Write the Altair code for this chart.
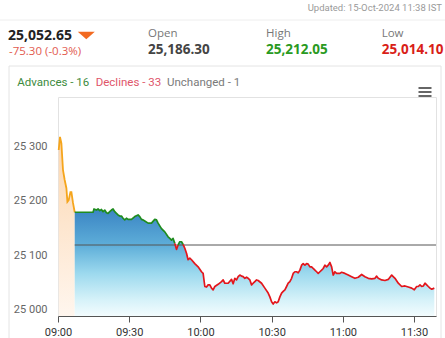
import altair as alt
import pandas as pd

# ---------------- data ----------------
# minutes after 09:00 and index level
minutes = [0.3, 0.84, 1.43, 2.11, 2.82, 3.54, 3.96, 4.51, 5.23, 5.65, 6.32, 7.04,
           10.9, 14.76, 15.18, 16.19, 16.87, 17.58, 18.30, 18.97, 19.69, 20.41, 21.08,
           21.80, 22.52, 23.19, 23.91, 24.62, 25.30, 26.02, 26.73, 27.41, 28.12, 28.84,
           29.51, 30.95, 32.34, 33.73, 34.45, 35.16, 35.84, 36.56, 37.95, 39.38, 40.77,
           41.49, 42.16, 43.60, 44.99, 46.38, 47.10, 47.81, 48.49, 49.21, 49.92, 50.60,
           51.31, 52.03, 52.71, 53.42, 54.14, 54.81, 55.53, 56.25, 57.64, 59.03, 60.46,
           61.14, 61.86, 62.57, 63.25, 63.96, 64.68, 65.35, 66.07, 67.46, 68.90, 69.57,
           70.29, 71.68, 73.11, 73.79, 74.50, 75.22, 75.90, 76.61, 77.33, 78.00, 78.72,
           79.44, 80.11, 80.83, 81.55, 82.22, 82.94, 83.65, 84.33, 85.76, 87.15, 88.54,
           89.26, 89.98, 90.65, 91.37, 92.09, 92.76, 93.48, 94.20, 94.87, 95.59, 96.30,
           96.98, 97.69, 98.41, 99.09, 99.80, 100.52, 101.19, 101.91, 102.63, 103.30,
           104.02, 104.74, 105.41, 106.13, 106.85, 107.52, 108.24, 108.95, 109.63, 110.34,
           111.06, 111.73, 112.45, 113.17, 113.84, 114.56, 115.28, 115.95, 116.67, 117.39,
           118.78, 119.49, 120.89, 122.28, 123.71, 125.10, 126.49, 127.93, 129.32, 130.71,
           132.14, 133.54, 134.25, 134.93, 136.36, 137.75, 139.14, 140.58, 141.97, 143.36,
           144.79, 146.18, 147.57, 149.01, 150.10, 151.11, 151.79, 152.51, 153.22, 153.90,
           154.62, 155.33, 156.01, 156.73, 157.45, 158.54]
prices = [25293, 25317, 25305, 25256, 25238, 25223, 25198, 25201, 25216, 25216, 25196, 25179,
          25179, 25179, 25185, 25183, 25185, 25182, 25184, 25180, 25183, 25178, 25177,
          25180, 25183, 25185, 25180, 25177, 25174, 25172, 25172, 25168, 25165, 25168,
          25166, 25166, 25171, 25174, 25171, 25166, 25165, 25163, 25159, 25159, 25166,
          25165, 25159, 25149, 25143, 25134, 25131, 25128, 25131, 25122, 25111, 25119,
          25125, 25125, 25120, 25113, 25104, 25092, 25095, 25092, 25085, 25079, 25070,
          25067, 25043, 25042, 25046, 25046, 25040, 25037, 25043, 25047, 25052, 25055,
          25049, 25049, 25056, 25048, 25058, 25055, 25061, 25064, 25062, 25061, 25058,
          25060, 25058, 25055, 25046, 25049, 25052, 25055, 25054, 25049, 25040, 25031,
          25024, 25015, 25011, 25015, 25013, 25015, 25024, 25031, 25034, 25037, 25043,
          25049, 25052, 25058, 25067, 25070, 25070, 25068, 25073, 25082, 25085,
          25082, 25085, 25084, 25079, 25079, 25076, 25073, 25070, 25067, 25070,
          25073, 25076, 25082, 25079, 25082, 25087, 25079, 25064, 25070, 25067,
          25067, 25069, 25067, 25064, 25061, 25058, 25060, 25065, 25061, 25058,
          25057, 25058, 25062, 25058, 25055, 25054, 25056, 25064, 25058, 25049,
          25043, 25044, 25042, 25040, 25037, 25043, 25043, 25046, 25043, 25044,
          25049, 25046, 25043, 25040, 25038, 25040]
preopen_points = 12          # first points belong to the pre-open session
ref_level = 25119            # horizontal reference line
y_ticks = [25000, 25100, 25200, 25300]
x_ticks = ["09:00", "09:30", "10:00", "10:30", "11:00", "11:30"]
x_end = "11:39:15"
y_domain = [24989, 25390]

updated = "Updated: 15-Oct-2024 11:38 IST"
last_price = "25,052.65"
change = "-75.30 (-0.3%)"
stat_names = ["Open", "High", "Low"]
stat_values = ["25,186.30", "25,212.05", "25,014.10"]
breadth = ["Advances - 16", "Declines - 33", "Unchanged - 1"]

# ---------------- frames ----------------
base = pd.Timestamp("2024-10-15 09:00:00")
df = pd.DataFrame({"t": base + pd.to_timedelta(minutes, unit="m"), "price": prices})
pre = df.iloc[:preopen_points]
sess = df.iloc[preopen_points - 1:].reset_index(drop=True)

# colour runs: green above reference, red below
rows = []
run = 0
prev = None
for i in range(len(sess) - 1):
    a, b = sess.iloc[i], sess.iloc[i + 1]
    side = "up" if (a.price + b.price) / 2 >= ref_level else "down"
    if side != prev:
        run += 1
        rows.append({"t": a.t, "price": a.price, "side": side, "run": run})
        prev = side
    rows.append({"t": b.t, "price": b.price, "side": side, "run": run})
lines_df = pd.DataFrame(rows)

ref_df = pd.DataFrame({"t0": [sess.t.iloc[0]], "t1": [pd.Timestamp("2024-10-15 " + x_end)],
                       "level": [ref_level]})


def dt(s):
    p = [int(v) for v in s.split(":")]
    while len(p) < 3:
        p.append(0)
    return alt.DateTime(year=2024, month=10, date=15, hours=p[0], minutes=p[1], seconds=p[2])


xscale = alt.Scale(domain=[dt(x_ticks[0]), dt(x_end)])
yscale = alt.Scale(domain=y_domain, zero=False, nice=False)

xenc = alt.X("t:T", scale=xscale, title=None,
             axis=alt.Axis(values=[dt(v) for v in x_ticks], format="%H:%M", labelFlush=False,
                           labelOverlap=False, grid=False, domainColor="#555", tickColor="#555",
                           tickSize=6, labelColor="#333", labelFontSize=11, labelFont="Roboto",
                           labelPadding=4, zindex=1))
yenc = alt.Y("price:Q", scale=yscale, title=None,
             axis=alt.Axis(values=y_ticks, grid=False, domain=False, ticks=False,
                           labelColor="#666", labelFontSize=11, labelFont="Roboto",
                           labelPadding=11, zindex=1,
                           labelExpr="replace(format(datum.value, ','), ',', ' ')"))

orange_grad = alt.Gradient(gradient="linear", x1=0, x2=0, y1=0, y2=1, stops=[
    alt.GradientStop(color="#fcd6ae", offset=0),
    alt.GradientStop(color="#fde6cf", offset=0.5),
    alt.GradientStop(color="#fff6ee", offset=1)])
blue_grad = alt.Gradient(gradient="linear", x1=0, x2=0, y1=0, y2=1, stops=[
    alt.GradientStop(color="#3a84c3", offset=0),
    alt.GradientStop(color="#5eaed9", offset=0.34),
    alt.GradientStop(color="#9cd9ee", offset=0.6),
    alt.GradientStop(color="#d6f2f9", offset=0.85),
    alt.GradientStop(color="#f3fcfe", offset=1)])

pre_area = alt.Chart(pre).mark_area(color=orange_grad).encode(
    x=xenc, y=yenc, y2=alt.datum(y_domain[0]))
sess_area = alt.Chart(sess).mark_area(color=blue_grad).encode(
    x="t:T", y="price:Q", y2=alt.datum(y_domain[0]))
ref_rule = alt.Chart(ref_df).mark_rule(color="#555", strokeWidth=1).encode(
    x="t0:T", x2="t1:T", y="level:Q")
pre_line = alt.Chart(pre).mark_line(color="#f5a51c", strokeWidth=1.8).encode(
    x="t:T", y="price:Q")
sess_line = alt.Chart(lines_df).mark_line(strokeWidth=1.7, strokeJoin="round").encode(
    x="t:T", y="price:Q",
    color=alt.Color("side:N", scale=alt.Scale(domain=["up", "down"], range=["#1f8c1f", "#e3161c"]),
                    legend=None),
    detail="run:N")

one = pd.DataFrame({"k": [0]})


def txt(s, x, y, size, color, weight="normal", align="left", font="Open Sans"):
    return alt.Chart(one).mark_text(text=s, align=align, baseline="alphabetic", fontSize=size,
                                    color=color, fontWeight=weight, font=font).encode(
        x=alt.value(x), y=alt.value(y))


def hline(x0, x1, y, color, w=1):
    return alt.Chart(one).mark_rule(color=color, strokeWidth=w).encode(
        x=alt.value(x0), x2=alt.value(x1), y=alt.value(y))


panel = alt.Chart(one).mark_rect(fill=None, filled=False, stroke="#e4e4e4", strokeWidth=1).encode(
    x=alt.value(-49), x2=alt.value(383), y=alt.value(-31), y2=alt.value(260))

tri = alt.Chart(one).mark_point(shape="M-1,-0.45L1,-0.45L0,0.45Z", size=289, filled=True,
                                color="#f26a21", opacity=1).encode(
    x=alt.value(28.3), y=alt.value(-61.5))

decor = [
    hline(-58, 387, -77, "#eeeeee"),
    panel,
    txt(updated, 384, -86, 9.5, "#9a9a9a", font="Roboto", align="right"),
    txt(last_price, -50, -57, 14, "#222222", "bold"),
    tri,
    txt(change, -49, -42, 11.5, "#e25b4f"),
    txt(stat_names[0], 90, -60, 11.5, "#777777"),
    txt(stat_values[0], 90, -43, 13.5, "#444444", "bold"),
    txt(stat_names[1], 208, -60, 11.5, "#777777"),
    txt(stat_values[1], 208, -43, 13.5, "#2a9a22", "bold"),
    txt(stat_names[2], 323.7, -60, 11.5, "#777777"),
    txt(stat_values[2], 323.7, -43, 13.5, "#d91e18", "bold"),
    txt(breadth[0], -40.7, -11, 11.5, "#3d8b40", font="Roboto"),
    txt(breadth[1], 37.7, -11, 11.5, "#e0556a", font="Roboto"),
    txt(breadth[2], 109, -11, 11.5, "#7a7a7a", font="Roboto"),
    hline(360.5, 373.5, -9, "#555555", 1.8),
    hline(360.5, 373.5, -5, "#555555", 1.8),
    hline(360.5, 373.5, -1, "#555555", 1.8),
]

chart = alt.layer(
    *decor[:2], pre_area, sess_area, ref_rule, pre_line, sess_line, *decor[2:]
).properties(
    width=378, height=219,
    autosize=alt.AutoSizeParams(type="none"),
    padding={"left": 58, "top": 97, "right": 9, "bottom": 22},
    background="white",
).configure_view(stroke="#e2e2e2", strokeWidth=1)

chart.save("out.html", embed_options={"renderer": "svg", "actions": False})
